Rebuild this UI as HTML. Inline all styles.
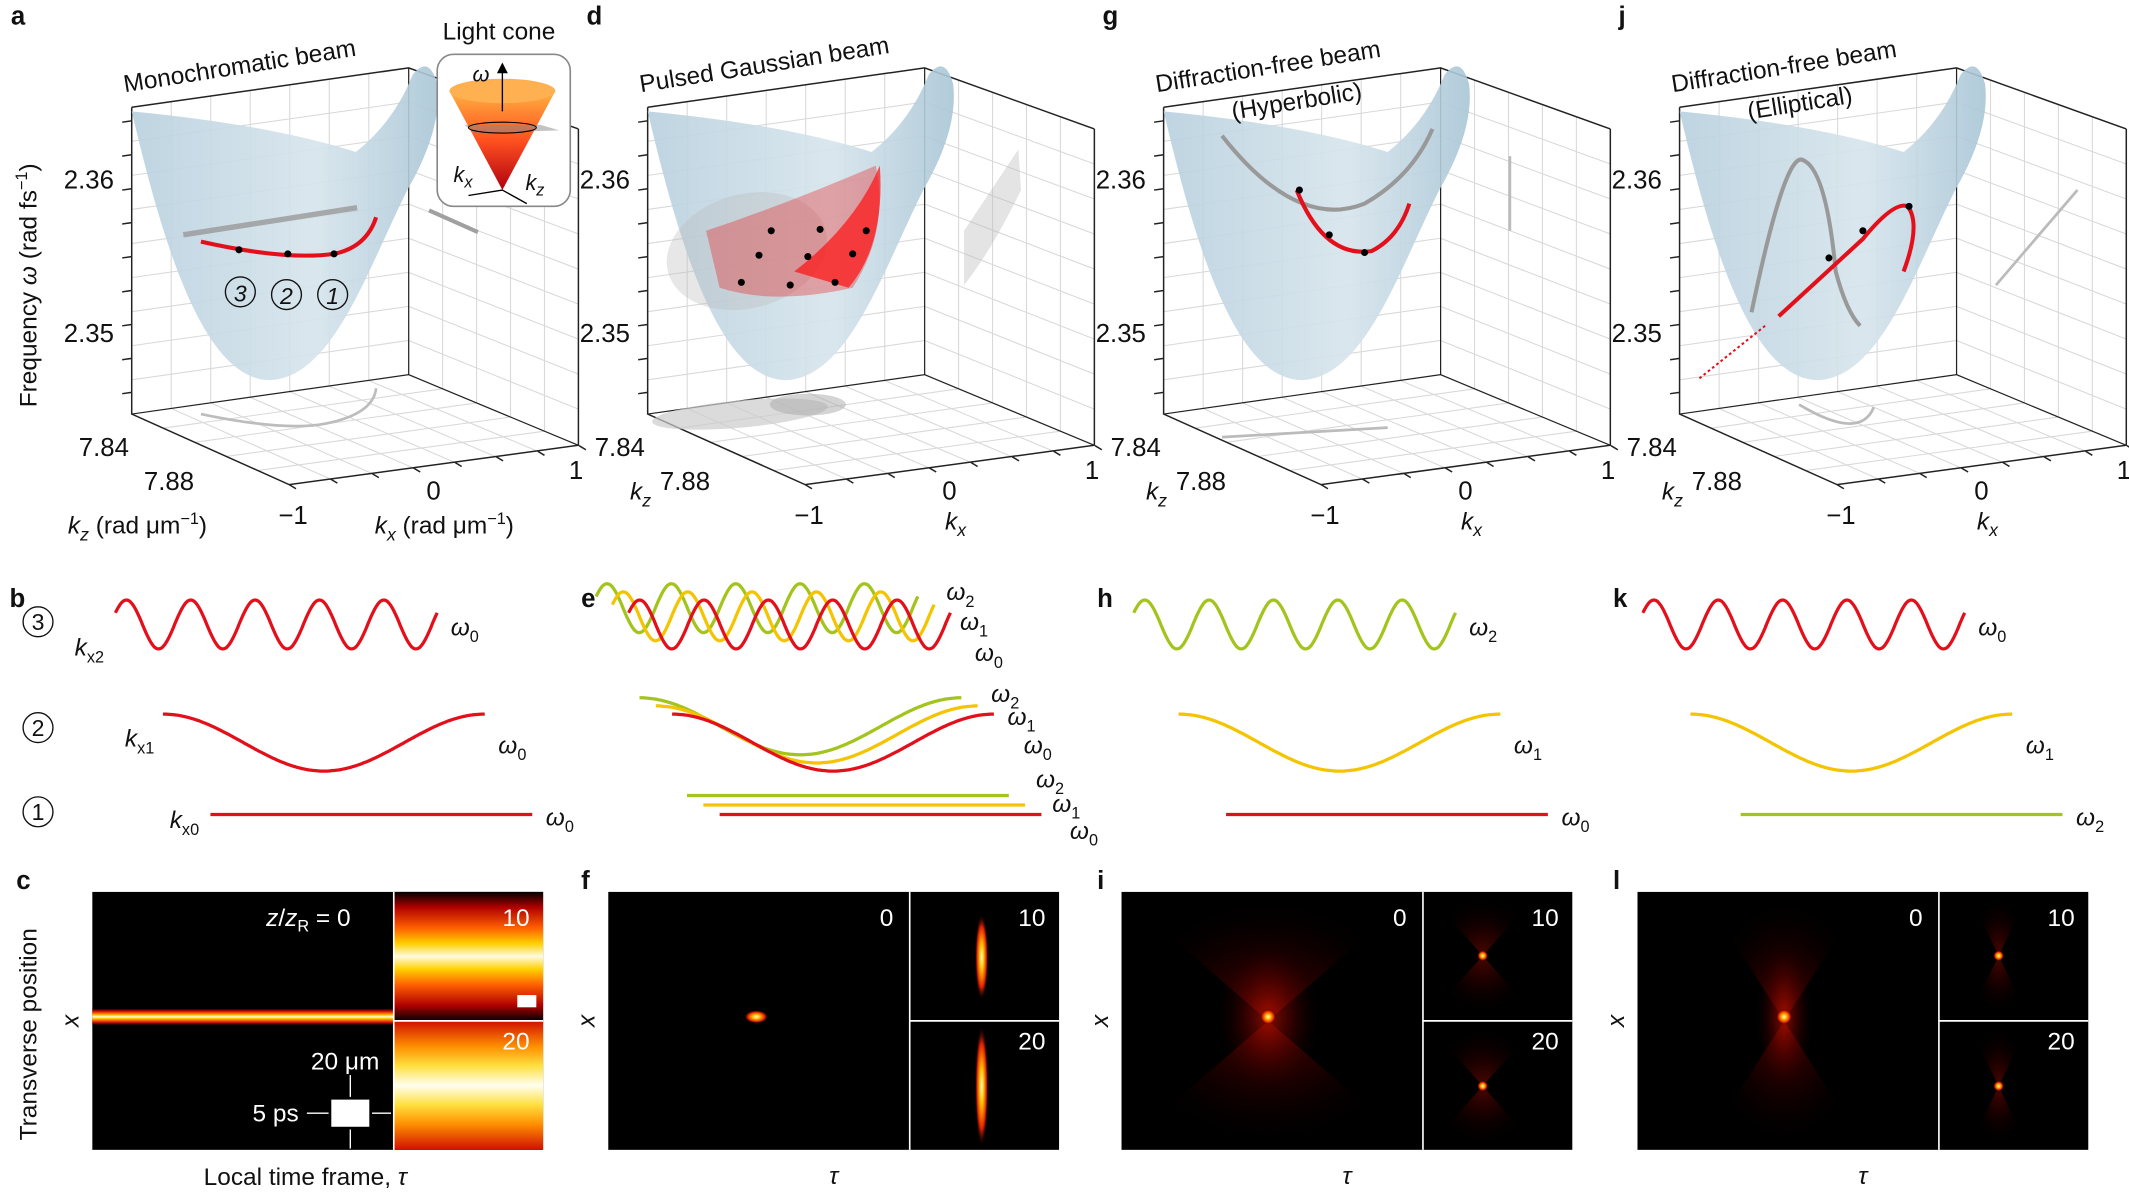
<!DOCTYPE html>
<html><head><meta charset="utf-8"><style>
html,body{margin:0;padding:0;background:#fff}
svg{display:block}
text{font-family:"Liberation Sans",sans-serif}
.it{font-style:italic}
.pl{font-weight:bold;font-size:19px}
</style></head><body>
<svg id="fig" width="2129" height="1196" viewBox="0 0 1568 881" preserveAspectRatio="none" xmlns="http://www.w3.org/2000/svg" fill="#111">
<defs>
<linearGradient id="band" x1="0" y1="0" x2="0" y2="1">
<stop offset="0" stop-color="#000"/><stop offset="0.12" stop-color="#b00000"/><stop offset="0.28" stop-color="#ff6000"/><stop offset="0.4" stop-color="#ffd000"/><stop offset="0.5" stop-color="#fffbe0"/><stop offset="0.6" stop-color="#ffd000"/><stop offset="0.72" stop-color="#ff6000"/><stop offset="0.88" stop-color="#b00000"/><stop offset="1" stop-color="#000"/></linearGradient>
<linearGradient id="band2" x1="0" y1="0" x2="0" y2="1">
<stop offset="0" stop-color="#d01000"/><stop offset="0.2" stop-color="#ff9000"/><stop offset="0.35" stop-color="#ffe040"/><stop offset="0.5" stop-color="#fffff0"/><stop offset="0.65" stop-color="#ffe040"/><stop offset="0.8" stop-color="#ff9000"/><stop offset="1" stop-color="#d01000"/></linearGradient>
<radialGradient id="spot"><stop offset="0" stop-color="#fffbd0"/><stop offset="0.3" stop-color="#ffc000"/><stop offset="0.7" stop-color="#e02000"/><stop offset="1" stop-color="#000" stop-opacity="0"/></radialGradient>
<radialGradient id="glow" cx="0.5" cy="0.5" r="0.5"><stop offset="0" stop-color="#c01000" stop-opacity="0.9"/><stop offset="0.5" stop-color="#600000" stop-opacity="0.5"/><stop offset="1" stop-color="#000" stop-opacity="0"/></radialGradient>
<linearGradient id="cone" x1="0" y1="0" x2="0" y2="1"><stop offset="0" stop-color="#ffb040"/><stop offset="0.5" stop-color="#ff5020"/><stop offset="1" stop-color="#b00010"/></linearGradient>
<linearGradient id="para" x1="0" y1="0" x2="1" y2="0"><stop offset="0" stop-color="#b8d0de"/><stop offset="0.6" stop-color="#d6e4ec"/><stop offset="1" stop-color="#a9c6d6"/></linearGradient>
</defs>
<g id="topRow"></g>
<g id="midRow"></g>
<g id="botRow"></g>
</svg>
<script>
const NS="http://www.w3.org/2000/svg";
function mk(p,t,a,txt){const e=document.createElementNS(NS,t);for(const k in a)e.setAttribute(k,a[k]);if(txt!==undefined)e.textContent=txt;p.appendChild(e);return e;}
// ---------- data ----------
const panelLetters=["a","d","g","j"];
const panelTitles=["Monochromatic beam","Pulsed Gaussian beam","Diffraction-free beam","Diffraction-free beam"];
const panelSub=["","","(Hyperbolic)","(Elliptical)"];
const omegaTicks=["2.36","2.35"];
const kzTicks=["7.84","7.88"];
const kxTicks=["-1","0","1"];
const waveCycles=[5,1,0];
const midLetters=["b","e","h","k"];
const waveColors={r:"#e3101b",y:"#f4c400",g:"#a3c41c"};
const midRows=[["r","r","r"],["rgy","rgy","rgy"],["g","y","r"],["r","y","g"]];
const midLabels=[["0","0","0"],["210","210","210"],["2","1","0"],["0","1","2"]];
const zLabels=["0","10","20"];
const botLetters=["c","f","i","l"];

const topG=document.getElementById('topRow'),midG=document.getElementById('midRow'),botG=document.getElementById('botRow');
const OFF=380;
// ---------- top row ----------
for(let p=0;p<4;p++){
 const g=mk(topG,'g',{transform:`translate(${p*OFF},0)`});
 
 
 const grid=mk(g,'g',{stroke:"#d9d9d9","stroke-width":0.8});
 for(let i=1;i<9;i++){const y0=79+i*25.1,y1=50+i*25.1;mk(grid,'line',{x1:97,y1:y0,x2:301,y2:y1});
   mk(grid,'line',{x1:301,y1:y1,x2:426,y2:95+i*25.8});}
 for(let i=1;i<7;i++){const x=97+i*29.1,yt=79-i*4.1;mk(grid,'line',{x1:x,y1:yt,x2:x,y2:yt+226});}
 for(let i=1;i<5;i++){const x=301+i*25;mk(grid,'line',{x1:x,y1:50+i*9,x2:x,y2:276+i*10.4});}
 for(let i=1;i<7;i++){mk(grid,'line',{x1:97+i*29.1,y1:305-i*4.1,x2:213+i*30.5,y2:357-i*4.1});}
 for(let i=1;i<5;i++){mk(grid,'line',{x1:97+i*23.2,y1:305+i*10.4,x2:301+i*25,y2:276+i*10.4});}
 const ax=mk(g,'g',{stroke:"#222","stroke-width":1.1,fill:"none"});
 mk(ax,'polyline',{points:"97,79 97,305 213,357 426,328 426,95"});
 mk(ax,'polyline',{points:"97,79 301,50 426,95"});
 mk(ax,'line',{x1:301,y1:50,x2:301,y2:276,"stroke-width":0.9});
 mk(ax,'polyline',{points:"97,305 301,276 426,328","stroke-width":0.9});
 for(let i=0;i<9;i++)mk(ax,'line',{x1:90,y1:90+i*25,x2:97,y2:89+i*25});
 for(let i=0;i<8;i++){const x=213+i*30.5,y=357-i*4.1;mk(ax,'line',{x1:x,y1:y,x2:x+5,y2:y+3});}
 mk(g,'path',{d:"M97,82 Q200,92 262,112 Q290,90 304,55 Q316,40 322,62 Q326,95 300,140 C270,200 245,278 199,280 C150,280 120,180 97,82 Z",fill:"url(#para)",opacity:0.9});
 mk(g,'text',{x:47,y:139,"font-size":19},omegaTicks[0]);
 mk(g,'text',{x:47,y:252,"font-size":19},omegaTicks[1]);
 mk(g,'text',{x:58,y:336,"font-size":19},kzTicks[0]);
 mk(g,'text',{x:106,y:361,"font-size":19},kzTicks[1]);
 mk(g,'text',{x:205,y:386,"font-size":19},kxTicks[0].replace('-','−'));
 mk(g,'text',{x:314,y:368,"font-size":19},kxTicks[1]);
 mk(g,'text',{x:419,y:353,"font-size":19},kxTicks[2]);
 mk(g,'text',{x:(p==0?8:52),y:18,"class":"pl"},panelLetters[p]);
 mk(g,'text',{x:92,y:68,"font-size":18,transform:"rotate(-9 92 68)"},panelTitles[p]);
 if(panelSub[p])mk(g,'text',{x:148,y:88,"font-size":18,transform:"rotate(-9 148 88)"},panelSub[p]);
 if(p==0){
  const t=mk(g,'text',{x:27,y:300,"font-size":18,transform:"rotate(-90 27 300)"});t.innerHTML='Frequency <tspan class="it">ω</tspan> (rad fs<tspan dy="-7" font-size="12">−1</tspan><tspan dy="7">)</tspan>';
  const k1=mk(g,'text',{x:50,y:393,"font-size":18});k1.innerHTML='<tspan class="it">k</tspan><tspan dy="5" font-size="13" class="it">z</tspan><tspan dy="-5"> (rad μm</tspan><tspan dy="-7" font-size="12">−1</tspan><tspan dy="7">)</tspan>';
  const k2=mk(g,'text',{x:276,y:393,"font-size":18});k2.innerHTML='<tspan class="it">k</tspan><tspan dy="5" font-size="13" class="it">x</tspan><tspan dy="-5"> (rad μm</tspan><tspan dy="-7" font-size="12">−1</tspan><tspan dy="7">)</tspan>';
 } else {
  const k1=mk(g,'text',{x:84,y:368,"font-size":18});k1.innerHTML='<tspan class="it">k</tspan><tspan dy="5" font-size="13" class="it">z</tspan>';
  const k2=mk(g,'text',{x:316,y:390,"font-size":18});k2.innerHTML='<tspan class="it">k</tspan><tspan dy="5" font-size="13" class="it">x</tspan>';
 }
 if(p==0){
  mk(g,'path',{d:"M135,173 L263,153",stroke:"#9a9a9a","stroke-width":4,opacity:0.8});
  mk(g,'path',{d:"M316,155 L352,171",stroke:"#a0a0a0","stroke-width":3});
  mk(g,'path',{d:"M148,305 Q210,318 240,312 Q275,305 277,286",stroke:"#bdbdbd","stroke-width":2,fill:"none"});
  mk(g,'path',{d:"M148,178 Q210,192 246,187 Q270,182 277,160",stroke:"#e3101b","stroke-width":3,fill:"none"});
  [[176,184],[212,187],[246,187]].forEach(c=>mk(g,'circle',{cx:c[0],cy:c[1],r:2.6,fill:"#000"}));
  [["3",177],["2",211],["1",245]].forEach((c,i)=>{mk(g,'circle',{cx:c[1],cy:215+(i?2:0),r:11,fill:"none",stroke:"#111","stroke-width":1});mk(g,'text',{x:c[1],y:222+(i?2:0),"font-size":17,"text-anchor":"middle","class":"it"},c[0]);});
  mk(g,'text',{x:326,y:29,"font-size":18},"Light cone");
  mk(g,'rect',{x:322,y:40,width:98,height:112,rx:12,fill:"#fff",stroke:"#888","stroke-width":1.2});
  mk(g,'path',{d:"M331,67 L409,67 L370,140 Z",fill:"url(#cone)"});
  mk(g,'ellipse',{cx:370,cy:67,rx:39,ry:9,fill:"#ffb050"});
  mk(g,'polygon',{points:"342,92 398,92 412,96 350,98",fill:"#888",opacity:0.5});
  mk(g,'ellipse',{cx:370,cy:94,rx:25,ry:4,fill:"none",stroke:"#000","stroke-width":0.8});
  mk(g,'line',{x1:370,y1:82,x2:370,y2:50,stroke:"#000","stroke-width":1});
  mk(g,'path',{d:"M366,54 L370,46 L374,54 Z",fill:"#000"});
  mk(g,'text',{x:348,y:60,"font-size":16,"class":"it"},"ω");
  mk(g,'line',{x1:370,y1:140,x2:345,y2:144,stroke:"#000"});mk(g,'line',{x1:370,y1:140,x2:388,y2:150,stroke:"#000"});
  const a1=mk(g,'text',{x:334,y:134,"font-size":16});a1.innerHTML='<tspan class="it">k</tspan><tspan dy="4" font-size="12" class="it">x</tspan>';
  const a2=mk(g,'text',{x:387,y:140,"font-size":16});a2.innerHTML='<tspan class="it">k</tspan><tspan dy="4" font-size="12" class="it">z</tspan>';
 } else if(p==1){
  const cl=mk(g,'g',{});
  mk(cl,'ellipse',{cx:170,cy:185,rx:60,ry:42,fill:"#bbb",opacity:0.35,transform:"rotate(-15 170 185)"});
  mk(cl,'path',{d:"M140,170 Q200,150 265,122 Q275,170 248,212 Q190,225 150,212 Z",fill:"#e82020",opacity:0.35});
  mk(cl,'path',{d:"M205,200 Q250,165 268,122 Q272,180 245,212 Z",fill:"#ff1010",opacity:0.7});
  mk(cl,'path',{d:"M330,170 L370,110 L372,140 Q350,185 330,210 Z",fill:"#bbb",opacity:0.4});
  mk(cl,'ellipse',{cx:165,cy:305,rx:65,ry:10,fill:"#ccc",opacity:0.7,transform:"rotate(-5 165 305)"});
  mk(cl,'ellipse',{cx:215,cy:298,rx:28,ry:8,fill:"#aaa",opacity:0.5});
  [[188,170],[224,169],[258,170],[179,188],[215,189],[248,187],[166,208],[202,210],[235,208]].forEach(c=>mk(cl,'circle',{cx:c[0],cy:c[1],r:2.6,fill:"#000"}));
 } else if(p==2){
  mk(g,'path',{d:"M140,100 Q195,170 245,150 Q280,130 295,95",stroke:"#999","stroke-width":3,fill:"none"});
  mk(g,'line',{x1:352,y1:115,x2:352,y2:170,stroke:"#bbb","stroke-width":2});
  mk(g,'line',{x1:140,y1:322,x2:262,y2:315,stroke:"#bbb","stroke-width":2});
  mk(g,'path',{d:"M195,140 Q215,190 250,185 Q270,175 278,150",stroke:"#e3101b","stroke-width":3,fill:"none"});
  [[197,140],[219,173],[245,186]].forEach(c=>mk(g,'circle',{cx:c[0],cy:c[1],r:2.6,fill:"#000"}));
 } else {
  mk(g,'path',{d:"M150,230 Q175,110 188,118 Q205,125 212,200 Q220,230 230,240",stroke:"#999","stroke-width":3,fill:"none"});
  mk(g,'line',{x1:330,y1:210,x2:390,y2:140,stroke:"#bbb","stroke-width":2});
  mk(g,'path',{d:"M185,298 Q230,325 240,300",stroke:"#bbb","stroke-width":2,fill:"none"});
  mk(g,'path',{d:"M170,233 L232,176 Q255,148 265,152 Q275,165 262,200",stroke:"#e3101b","stroke-width":3,fill:"none"});
  mk(g,'line',{x1:160,y1:240,x2:110,y2:280,stroke:"#e3101b","stroke-width":1.5,"stroke-dasharray":"2,2"});
  [[207,190],[232,170],[266,152]].forEach(c=>mk(g,'circle',{cx:c[0],cy:c[1],r:2.6,fill:"#000"}));
 }
}
// ---------- middle row ----------
function wave(g,x0,len,cy,amp,cyc,col,name){
 let d='';const n=200;
 for(let i=0;i<=n;i++){const t=i/n;const x=x0+t*len;let y;
  if(cyc==0)y=cy;else if(cyc==1)y=cy-amp*Math.cos(2*Math.PI*t);else y=cy-amp*Math.sin(2*Math.PI*cyc*t+0.5);
  d+=(i?'L':'M')+x.toFixed(1)+','+y.toFixed(1);}
 const e=mk(g,'path',{d:d,stroke:col,"stroke-width":2.4,fill:"none"});
 
 
}
function om(g,x,y,sub){const t=mk(g,'text',{x:x,y:y,"font-size":18});t.innerHTML='<tspan class="it">ω</tspan><tspan dy="5" font-size="12">'+sub+'</tspan>';}
const rowY=[460,547,600];
const rowX=[[85,120,155],[463,495,530],[835,868,903],[1210,1245,1282]];
const eLab=[[[697,442],[707,464],[718,487]],[[730,517],[742,534],[754,555]],[[763,580],[775,598],[788,618]]];
for(let p=0;p<4;p++){
 const g=mk(midG,'g',{});
 
 
 mk(g,'text',{x:p*OFF+(p?48:7),y:447,"class":"pl"},midLetters[p]);
 for(let r=0;r<3;r++){
  const x0=rowX[p][r],cy=rowY[r],amp=r==0?18:21,len=237;
  if(p==1){
   const cols=["g","y","r"];
   cols.forEach((c,k)=>{const s=2-k;wave(g,x0-s*12+(r==2?-0*s:0),len,cy-s*(r==2?7:6),amp,waveCycles[r],waveColors[c],'wave-'+c);});
   om(g,eLab[r][0][0],eLab[r][0][1],"2");om(g,eLab[r][1][0],eLab[r][1][1],"1");om(g,eLab[r][2][0],eLab[r][2][1],"0");
  } else {
   const c=midRows[p][r];wave(g,x0,len,cy,amp,waveCycles[r],waveColors[c],'wave-row-'+(3-r));
   om(g,x0+len+10,cy+8,midLabels[p][r]);
  }
 }
}
[["3",460],["2",538],["1",600]].forEach(c=>{mk(midG,'circle',{cx:28,cy:c[1]-2,r:11,fill:"none",stroke:"#111","stroke-width":1});mk(midG,'text',{x:28,y:c[1]+4,"font-size":17,"text-anchor":"middle"},c[0]);});
[[55,483,"x2"],[92,550,"x1"],[125,610,"x0"]].forEach(c=>{const t=mk(midG,'text',{x:c[0],y:c[1],"font-size":18});t.innerHTML='<tspan class="it">k</tspan><tspan dy="5" font-size="12">'+c[2]+'</tspan>';});
// ---------- bottom row ----------
const bx=[68,448,826,1206];
const W_="fill:#fff";
for(let p=0;p<4;p++){
 const g=mk(botG,'g',{});
 
 
 const x0=bx[p],y0=657,W=222,H=190,w2=110;
 mk(g,'text',{x:p*OFF+(p?48:12),y:655,"class":"pl"},botLetters[p]);
 mk(g,'rect',{x:x0,y:y0,width:W+w2,height:H,fill:"#000"});
 if(p==0){
  mk(g,'rect',{x:x0,y:743,width:W,height:12,fill:"url(#band)"});
  mk(g,'rect',{x:x0+W,y:y0,width:w2,height:95,fill:"url(#band)"});
  mk(g,'rect',{x:x0+W,y:752,width:w2,height:95,fill:"url(#band2)"});
  mk(g,'rect',{x:381,y:733,width:14,height:9,fill:"#fff"});
  mk(g,'rect',{x:244,y:810,width:28,height:20,fill:"#fff"});
  mk(g,'text',{x:229,y:788,"font-size":18,style:W_},"20 μm");
  mk(g,'text',{x:186,y:826,"font-size":18,style:W_},"5 ps");
  mk(g,'path',{d:"M258,792 L258,808 M258,832 L258,846 M226,820 L242,820 M274,820 L288,820",stroke:"#fff","stroke-width":1});
  const t=mk(g,'text',{x:196,y:682,"font-size":18,style:W_});t.innerHTML='<tspan class="it">z</tspan>/<tspan class="it">z</tspan><tspan dy="4" font-size="12">R</tspan><tspan dy="-4"> = 0</tspan>';
 } else if(p==1){
  mk(g,'ellipse',{cx:557,cy:749,rx:9,ry:5,fill:"url(#spot)"});
  mk(g,'ellipse',{cx:723,cy:705,rx:5,ry:32,fill:"url(#spot)"});
  mk(g,'ellipse',{cx:723,cy:800,rx:5,ry:45,fill:"url(#spot)"});
 } else {
  const sp=p==2?1:0.55;
  const cx=x0+108,cy=749;
  mk(g,'path',{d:`M${cx-110*sp},${y0} L${cx+110*sp},${y0} L${cx-110*sp},${y0+H} L${cx+110*sp},${y0+H} Z`,fill:"url(#glow)",opacity:0.55});
  mk(g,'ellipse',{cx:cx,cy:cy,rx:40*sp,ry:60,fill:"url(#glow)",opacity:0.8});
  mk(g,'ellipse',{cx:cx,cy:cy,rx:6,ry:6,fill:"url(#spot)"});
  [[x0+W+44,704],[x0+W+44,800]].forEach(c=>{
   mk(g,'path',{d:`M${c[0]-40*sp},${c[1]-45} L${c[0]+40*sp},${c[1]-45} L${c[0]-40*sp},${c[1]+45} L${c[0]+40*sp},${c[1]+45} Z`,fill:"url(#glow)",opacity:0.45});
   mk(g,'ellipse',{cx:c[0],cy:c[1],rx:4,ry:4,fill:"url(#spot)"});});
 }
 mk(g,'line',{x1:x0+W,y1:y0,x2:x0+W,y2:y0+H,stroke:"#fff","stroke-width":1.2});
 mk(g,'line',{x1:x0+W,y1:752,x2:x0+W+w2,y2:752,stroke:"#fff","stroke-width":1.2});
 if(p>0)mk(g,'text',{x:x0+W-12,y:682,"font-size":18,style:W_,"text-anchor":"end"},zLabels[0]);
 mk(g,'text',{x:x0+W+w2-10,y:682,"font-size":18,style:W_,"text-anchor":"end"},zLabels[1]);
 mk(g,'text',{x:x0+W+w2-10,y:773,"font-size":18,style:W_,"text-anchor":"end"},zLabels[2]);
 mk(g,'text',{x:x0-10,y:752,"font-size":18,"class":"it",transform:`rotate(-90 ${x0-10} 752)`,"text-anchor":"middle"},"x");
 if(p>0)mk(g,'text',{x:x0+166,y:872,"font-size":18,"class":"it","text-anchor":"middle"},"τ");
}
mk(botG,'text',{x:27,y:840,"font-size":18,transform:"rotate(-90 27 840)"},"Transverse position");
const ltf=mk(botG,'text',{x:150,y:873,"font-size":18});ltf.innerHTML='Local time frame, <tspan class="it">τ</tspan>';
</script>
</body></html>
